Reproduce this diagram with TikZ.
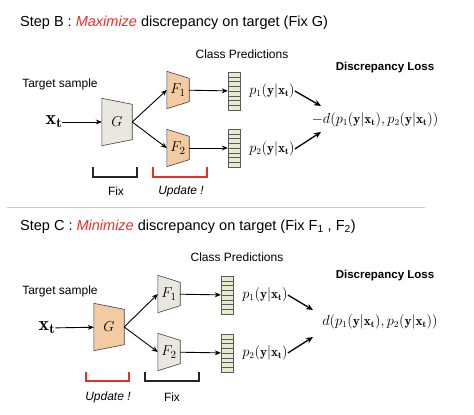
\documentclass[tikz,border=0pt]{standalone}
\usepackage{amsmath}
\usepackage{fontspec}
\setsansfont{Liberation Sans}
\usetikzlibrary{arrows.meta,calc,backgrounds}
\definecolor{fixgray}{RGB}{233,231,222}
\definecolor{updorange}{RGB}{243,203,163}
\definecolor{bargreen}{RGB}{228,236,208}
\definecolor{mred}{RGB}{226,50,40}
\tikzset{
    txt/.style={font=\sffamily\fontsize{12}{14}\selectfont,inner sep=0pt},
    heading/.style={font=\sffamily\fontsize{14.5}{17}\selectfont,anchor=west,inner sep=0pt},
    gblock/.style={minimum width=30pt,minimum height=47pt,inner sep=0pt,font=\fontsize{15}{17}\selectfont},
    fblock/.style={minimum width=22pt,minimum height=37pt,inner sep=0pt,font=\fontsize{15}{17}\selectfont},
    prob/.style={inner sep=0pt,font=\fontsize{13.3}{15}\selectfont},
    bar/.style={draw=black!65,fill=bargreen,minimum width=12pt,minimum height=38pt,inner sep=0pt,
        path picture={\foreach \k in {1,...,7}
            \draw[black!65] ($(path picture bounding box.north west)!\k/8!(path picture bounding box.south west)$)
                -- ($(path picture bounding box.north east)!\k/8!(path picture bounding box.south east)$);}},
    directed/.style={arrows={-Stealth[length=6pt,width=5pt]},line width=0.9pt},
    lossarrow/.style={arrows={-Stealth[length=7pt,width=6pt]},line width=1.3pt},
    bracket/.style={line width=1.4pt,draw=black!85},
    }

\begin{document}
\begin{tikzpicture}[x=1pt,y=-1pt]
    \useasboundingbox (0,0) rectangle (474,415);

    % Step B
    \node[heading] (titleB) at (20,23) {Step B : \textcolor{mred}{\itshape Maximize} discrepancy on target (Fix G)};
    \node[txt] (classB) at (242,54) {Class Predictions};
    \node[txt,font=\sffamily\bfseries\fontsize{11.5}{14}\selectfont] (lossB) at (385,68) {Discrepancy Loss};
    \node[txt] (targetB) at (60,84) {Target sample};
    \node[inner sep=0pt,font=\fontsize{20}{22}\selectfont] (xB) at (54,122) {$\mathbf{x}_\mathbf{t}$};
    \node[gblock] (GB) at (117,122) {$G$};
    \node[fblock] (F1B) at (178,90) {$F_1$};
    \node[fblock] (F2B) at (178,148) {$F_2$};
    \node[bar] (bar1B) at (234,91) {};
    \node[bar] (bar2B) at (234,148) {};
    \node[prob] (p1B) at (272,91) {$p_1(\mathbf{y}|\mathbf{x}_\mathbf{t})$};
    \node[prob] (p2B) at (272,149) {$p_2(\mathbf{y}|\mathbf{x}_\mathbf{t})$};
    \node[prob] (dB) at (375,120) {$-d(p_1(\mathbf{y}|\mathbf{x}_\mathbf{t}),p_2(\mathbf{y}|\mathbf{x}_\mathbf{t}))$};
    \coordinate (in1B) at (321,106);
    \coordinate (in2B) at (321,132);

    \draw[directed] (xB) to (GB);
    \draw[directed] (GB.east) to (F1B.west);
    \draw[directed] (GB.east) to (F2B.west);
    \draw[directed] (F1B) to (bar1B);
    \draw[directed] (F2B) to (bar2B);
    \draw[lossarrow] (p1B.east) to (in1B);
    \draw[lossarrow] (p2B.east) to (in2B);

    \draw[bracket] (93,167) -- (93,177) -- (137,177) -- (137,167);
    \draw[bracket,draw=mred] (153,167) -- (153,177) -- (207,177) -- (207,167);
    \node[txt] (fixB) at (116,191) {Fix};
    \node[txt,font=\sffamily\itshape\fontsize{12}{14}\selectfont] (updB) at (181,191) {Update !};

    \draw[black!20,line width=0.8pt] (7,207) -- (425,207);

    % Step C
    \node[heading] (titleC) at (20,227) {Step C : \textcolor{mred}{\itshape Minimize} discrepancy on target (Fix F\textsubscript{1} , F\textsubscript{2})};
    \node[txt] (classC) at (237,257) {Class Predictions};
    \node[txt,font=\sffamily\bfseries\fontsize{11.5}{14}\selectfont] (lossC) at (385,276) {Discrepancy Loss};
    \node[txt] (targetC) at (60,291) {Target sample};
    \node[inner sep=0pt,font=\fontsize{20}{22}\selectfont] (xC) at (47,328) {$\mathbf{x}_\mathbf{t}$};
    \node[gblock] (GC) at (109,327) {$G$};
    \node[fblock] (F1C) at (169,294) {$F_1$};
    \node[fblock] (F2C) at (169,352) {$F_2$};
    \node[bar] (bar1C) at (227,295) {};
    \node[bar] (bar2C) at (227,353) {};
    \node[prob] (p1C) at (265,295) {$p_1(\mathbf{y}|\mathbf{x}_\mathbf{t})$};
    \node[prob] (p2C) at (265,353) {$p_2(\mathbf{y}|\mathbf{x}_\mathbf{t})$};
    \node[prob] (dC) at (380,322) {$d(p_1(\mathbf{y}|\mathbf{x}_\mathbf{t}),p_2(\mathbf{y}|\mathbf{x}_\mathbf{t}))$};
    \coordinate (in1C) at (313,310);
    \coordinate (in2C) at (313,337);

    \draw[directed] (xC) to (GC);
    \draw[directed] (GC.east) to (F1C.west);
    \draw[directed] (GC.east) to (F2C.west);
    \draw[directed] (F1C) to (bar1C);
    \draw[directed] (F2C) to (bar2C);
    \draw[lossarrow] (p1C.east) to (in1C);
    \draw[lossarrow] (p2C.east) to (in2C);

    \draw[bracket,draw=mred] (86,372) -- (86,381) -- (129,381) -- (129,372);
    \draw[bracket] (145,372) -- (145,381) -- (199,381) -- (199,372);
    \node[txt,font=\sffamily\itshape\fontsize{12}{14}\selectfont] (updC) at (108,397) {Update !};
    \node[txt] (fixC) at (172,397) {Fix};

    % trapezoid blocks behind their labels
    \begin{scope}[on background layer]
    \foreach \n/\s/\c in {GB/6pt/fixgray,F1B/7pt/updorange,F2B/7pt/updorange,GC/6pt/updorange,F1C/7pt/fixgray,F2C/7pt/fixgray}
        \filldraw[fill=\c,draw=black!75,line width=0.6pt] (\n.north west) -- ([yshift=-\s]\n.north east)
            -- ([yshift=\s]\n.south east) -- (\n.south west) -- cycle;
    \end{scope}
\end{tikzpicture}
\end{document}
